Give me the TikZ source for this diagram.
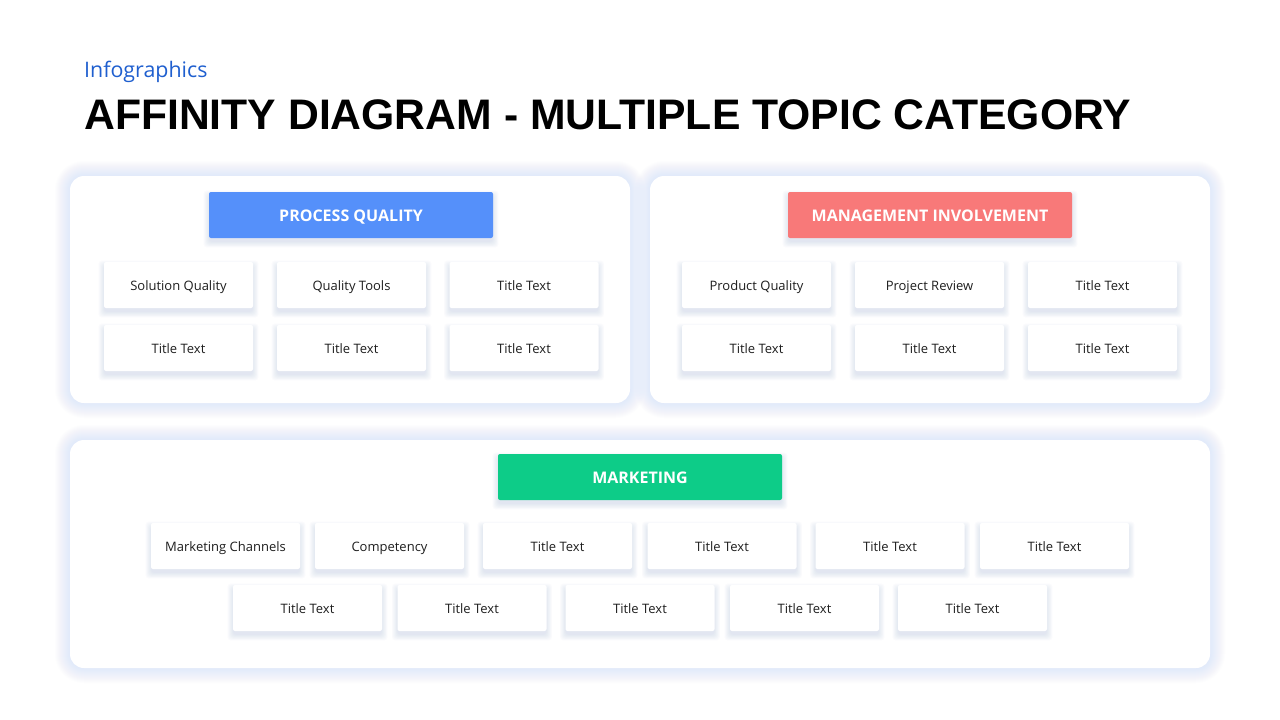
\documentclass[tikz,border=0pt]{standalone}
\usepackage{fontspec}
\setmainfont{Open Sans}
\newfontfamily\titlefont{Liberation Sans}
\definecolor{pqblue}{RGB}{85,144,250}
\definecolor{mired}{RGB}{248,121,121}
\definecolor{mkgreen}{RGB}{13,204,136}
\definecolor{infoblue}{RGB}{31,95,207}
\definecolor{glowc}{RGB}{200,216,250}
\definecolor{shadowc}{RGB}{150,168,215}
\definecolor{cardtext}{RGB}{30,30,30}
\tikzset{
  panelbox/.style={fill=white, rounded corners=14pt, draw=none, minimum width=560pt, minimum height=227pt, inner sep=0pt},
  bigpanel/.style={panelbox, minimum width=1140pt, minimum height=228pt},
  headbox/.style={rounded corners=2pt, minimum width=284pt, minimum height=46pt, inner sep=0pt, text=white, text height=12.5pt, text depth=0pt, font=\bfseries\fontsize{16}{18}\selectfont},
  cardbox/.style={fill=white, rounded corners=2pt, minimum width=149pt, minimum height=46pt, inner sep=0pt, text=cardtext, text height=11pt, text depth=0pt, font=\fontsize{13}{15}\selectfont},
}
\newcommand\softshadow[5]{% x1 y1 x2 y2 offset
  \foreach \k in {1,...,8}{
    \fill[shadowc, opacity=0.035, rounded corners=3pt] (#1-\k*0.8+1,#2+#5-\k*0.8+1) rectangle (#3+\k*0.8-1,#4+#5+\k*0.8-1);
  }}
\newcommand\panelglow[4]{%
  \foreach \k in {1,...,15}{
    \fill[glowc, opacity=0.035, rounded corners=14pt+\k pt] (#1-\k,#2-\k) rectangle (#3+\k,#4+\k);
  }}
\newcommand\mycard[4]{% name, cx, cy, text
  \softshadow{#2-74.5}{#3-23}{#2+74.5}{#3+23}{4}
  \node[cardbox] (#1) at (#2,#3) {#4};}
\newcommand\myhead[5]{% name, cx, cy, color, text
  \softshadow{#2-142}{#3-23}{#2+142}{#3+23}{4}
  \node[headbox, fill=#4] (#1) at (#2,#3) {#5};}
\begin{document}
\begin{tikzpicture}[x=1pt,y=-1pt]
\useasboundingbox[fill=white] (0,0) rectangle (1280,720);
% title
\node[anchor=base west, inner sep=0pt, text=infoblue, font=\fontsize{21.4}{25}\selectfont] (sup) at (84,77) {Infographics};
\node[anchor=base west, inner sep=0pt, font=\titlefont\bfseries\fontsize{42.7}{48}\selectfont] (ttl) at (84,129) {AFFINITY DIAGRAM - MULTIPLE TOPIC CATEGORY};
% panels
\panelglow{70}{176}{630}{403}
\panelglow{650}{176}{1210}{403}
\panelglow{70}{440}{1210}{668}
\node[panelbox] (p1) at (350,289.5) {};
\node[panelbox] (p2) at (930,289.5) {};
\node[bigpanel] (p3) at (640,554) {};
% headers
\myhead{h1}{351}{215}{pqblue}{PROCESS QUALITY}
\myhead{h2}{930}{215}{mired}{MANAGEMENT INVOLVEMENT}
\myhead{h3}{640}{477}{mkgreen}{MARKETING}
% panel 1 cards
\mycard{a1}{178.5}{285}{Solution Quality}
\mycard{a2}{351.5}{285}{Quality Tools}
\mycard{a3}{524}{285}{Title Text}
\mycard{a4}{178.5}{348}{Title Text}
\mycard{a5}{351.5}{348}{Title Text}
\mycard{a6}{524}{348}{Title Text}
% panel 2 cards
\mycard{b1}{756.5}{285}{Product Quality}
\mycard{b2}{929.5}{285}{Project Review}
\mycard{b3}{1102.5}{285}{Title Text}
\mycard{b4}{756.5}{348}{Title Text}
\mycard{b5}{929.5}{348}{Title Text}
\mycard{b6}{1102.5}{348}{Title Text}
% panel 3 cards
\mycard{c1}{225.5}{546}{Marketing Channels}
\mycard{c2}{389.5}{546}{Competency}
\mycard{c3}{557.5}{546}{Title Text}
\mycard{c4}{722}{546}{Title Text}
\mycard{c5}{890}{546}{Title Text}
\mycard{c6}{1054.5}{546}{Title Text}
\mycard{d1}{307.5}{608}{Title Text}
\mycard{d2}{472}{608}{Title Text}
\mycard{d3}{640}{608}{Title Text}
\mycard{d4}{804.5}{608}{Title Text}
\mycard{d5}{972.5}{608}{Title Text}
\end{tikzpicture}
\end{document}
